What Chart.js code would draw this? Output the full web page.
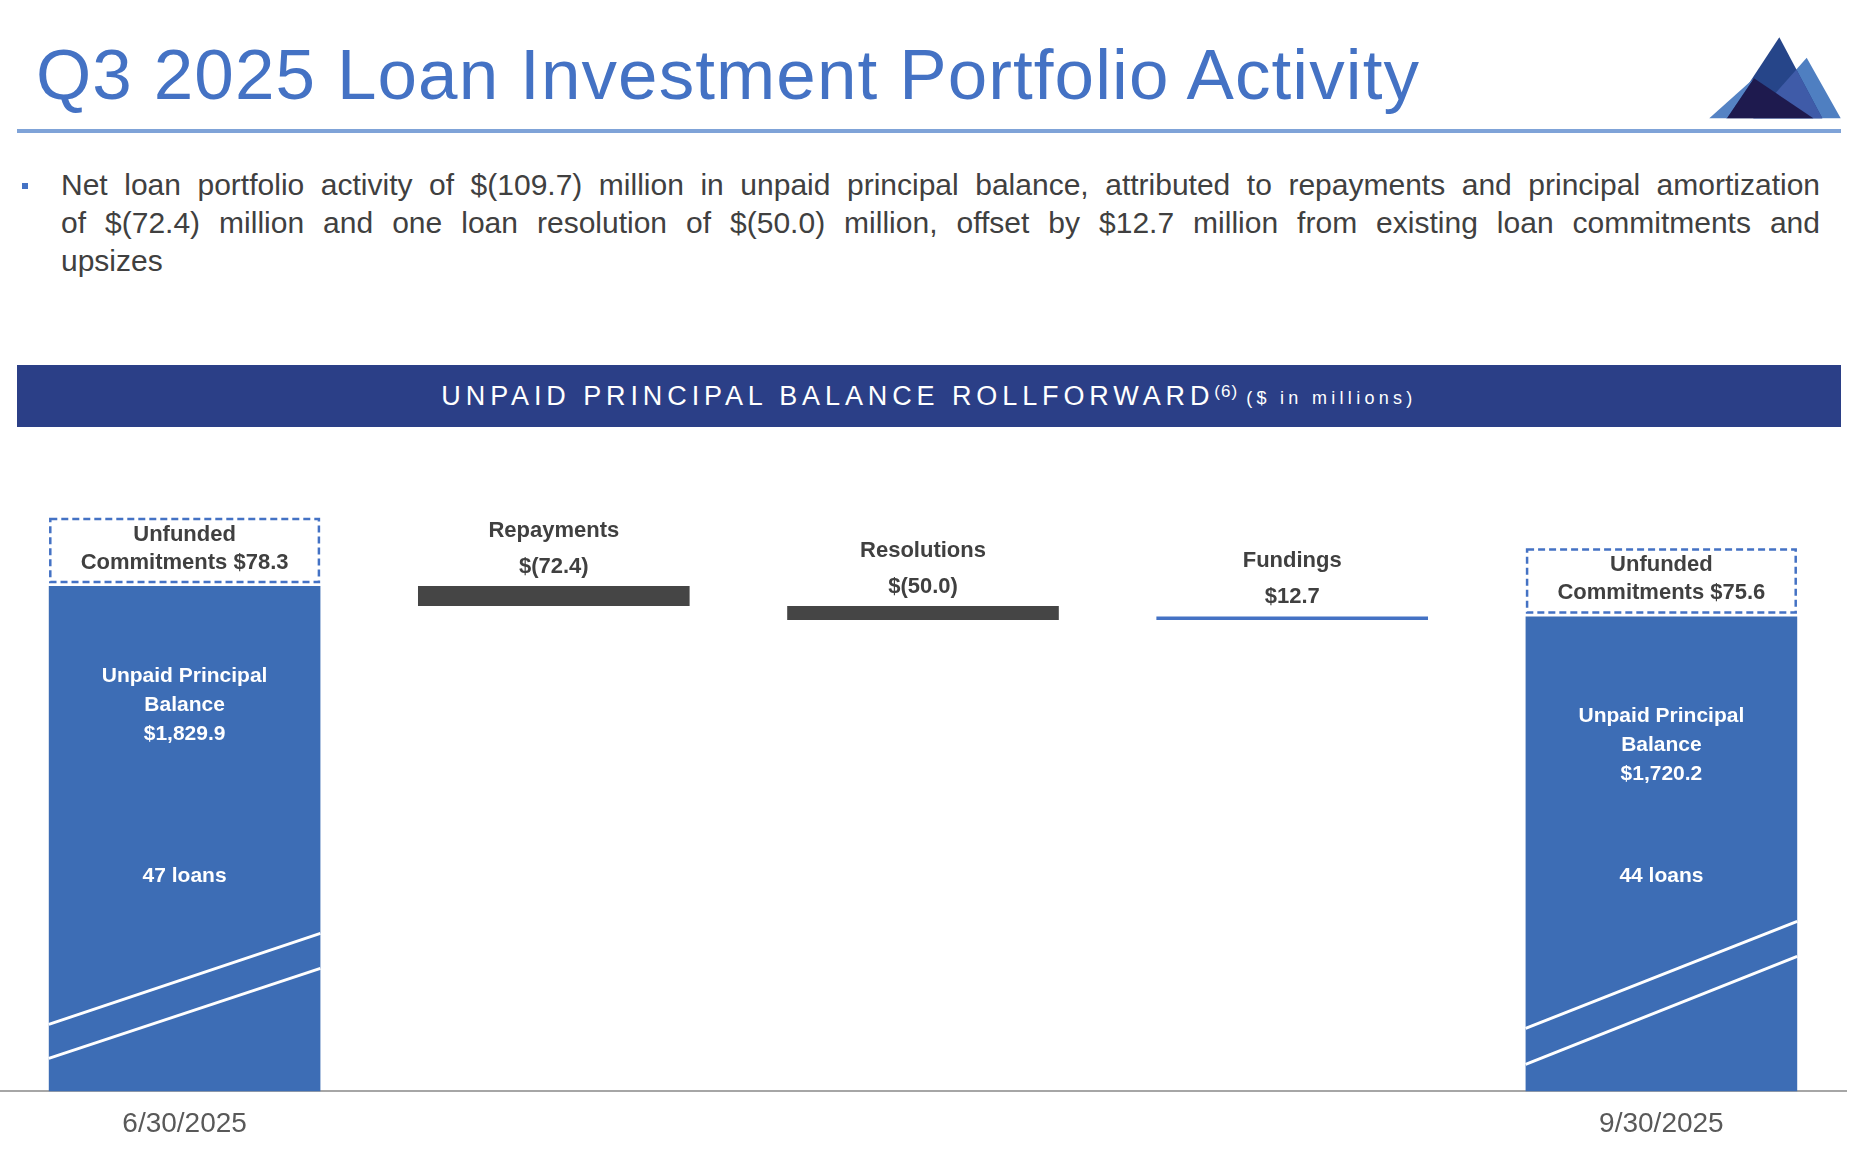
<!DOCTYPE html>
<html>
<head>
<meta charset="utf-8">
<script src="https://cdn.jsdelivr.net/npm/chart.js@4.4.1/dist/chart.umd.min.js"></script>
<style>
  html, body { margin: 0; padding: 0; background: #fff; }
  body { width: 1868px; height: 1166px; position: relative; overflow: hidden; font-family: 'Liberation Sans', Arial, sans-serif; }
  #title { position: absolute; left: 36px; top: 39px; font-size: 71px; line-height: 1; color: #4472C4; letter-spacing: 1.1px; white-space: nowrap; }
  #rule { position: absolute; left: 17px; top: 129px; width: 1824px; height: 4px; background: #7FA3D8; }
  #logo { position: absolute; left: 0; top: 0; }
  #bullet { position: absolute; left: 22px; top: 183px; width: 6px; height: 6px; background: #4472C4; }
  #text { position: absolute; left: 61px; top: 166px; width: 1759px; font-size: 30px; line-height: 38px; color: #404040; }
  #text .j { text-align: justify; text-align-last: justify; white-space: nowrap; }
  #banner { position: absolute; left: 17px; top: 365px; width: 1824px; height: 62px; background: #2B3F87; color: #fff;
            display: flex; align-items: center; justify-content: center; }
  #banner .main { font-size: 27px; letter-spacing: 4.9px; }
  #banner sup { font-size: 17px; letter-spacing: 1px; position: relative; top: -4px; }
  #banner .unit { font-size: 18px; letter-spacing: 4.3px; margin-left: 8px; position: relative; top: 2px; }
  #wrap { position: absolute; left: 0; top: 440px; width: 1868px; height: 726px; }
</style>
</head>
<body>
<div id="title">Q3 2025 Loan Investment Portfolio Activity</div>
<div id="rule"></div>
<svg id="logo" width="1868" height="130">
  <polygon points="1806.7,57.7 1753.3,118.3 1840.7,118.3" fill="#4F7FC1"/>
  <polygon points="1779.3,37.3 1726,118.3 1822.3,118.3" fill="#264589"/>
  <polygon points="1796.4,69.5 1753.3,118.3 1822.3,118.3" fill="#3F5BA8"/>
  <polygon points="1709.3,118.3 1754,78.3 1727,118.3" fill="#5583C4"/>
  <polygon points="1754,78.3 1727,118.3 1813.3,118.3" fill="#1E1A4E"/>
</svg>
<div id="bullet"></div>
<div id="text">
  <div class="j">Net loan portfolio activity of $(109.7) million in unpaid principal balance, attributed to repayments and principal amortization</div>
  <div class="j">of $(72.4) million and one loan resolution of $(50.0) million, offset by $12.7 million from existing loan commitments and</div>
  <div>upsizes</div>
</div>
<div id="banner"><span class="main">UNPAID PRINCIPAL BALANCE ROLLFORWARD</span><sup>(6)</sup><span class="unit">($ in millions)</span></div>
<div id="wrap"><canvas id="grafico"></canvas></div>
<script>
  const categories = ['6/30/2025', 'Repayments', 'Resolutions', 'Fundings', '9/30/2025'];
  const tickLabels = ['6/30/2025', '', '', '', '9/30/2025'];
  const startBalance = 1829.9;
  const changes = [-72.4, -50.0, 12.7];
  const endBalance = 1720.2;
  const unfunded = [78.3, 75.6];
  const loanCounts = [47, 44];

  // waterfall: end bars from zero, steps float between running totals
  let running = startBalance;
  const floating = [[0, startBalance]];
  changes.forEach(c => {
    floating.push([running, running + c]);
    running += c;
  });
  floating.push([0, endBalance]);

  const barColors = ['#3D6DB5', '#454545', '#454545', '#4472C4', '#3D6DB5'];

  const fmtDelta = v => v < 0 ? '$(' + Math.abs(v).toFixed(1) + ')' : '$' + v.toFixed(1);
  const fmtBal = v => '$' + v.toLocaleString('en-US', { minimumFractionDigits: 1, maximumFractionDigits: 1 });

  const labelPlugin = {
    id: 'wfLabels',
    afterDatasetsDraw(chart) {
      const ctx = chart.ctx;
      const bars = chart.getDatasetMeta(0).data;
      const last = bars.length - 1;
      ctx.save();
      ctx.textAlign = 'center';
      ctx.textBaseline = 'middle';
      bars.forEach((bar, i) => {
        const top = Math.min(bar.y, bar.base);
        const base = Math.max(bar.y, bar.base);
        const left = bar.x - bar.width / 2;
        const right = bar.x + bar.width / 2;
        if (i === 0 || i === last) {
          const k = i === 0 ? 0 : 1;
          const bal = i === 0 ? startBalance : endBalance;
          // axis break marks
          const cuts = k === 0 ? [[67, 158], [33, 123]] : [[63, 170], [27, 135]];
          ctx.strokeStyle = '#fff';
          ctx.lineWidth = 3;
          cuts.forEach(c => {
            ctx.beginPath();
            ctx.moveTo(left, base - c[0]);
            ctx.lineTo(right, base - c[1]);
            ctx.stroke();
          });
          // unfunded commitments box
          ctx.setLineDash([7, 4]);
          ctx.strokeStyle = '#4472C4';
          ctx.lineWidth = 2.5;
          ctx.strokeRect(left + 1.5, top - 67, bar.width - 3, 63);
          ctx.setLineDash([]);
          ctx.fillStyle = '#404040';
          ctx.font = 'bold 22px "Liberation Sans", Arial, sans-serif';
          ctx.fillText('Unfunded', bar.x, top - 51);
          ctx.fillText('Commitments ' + fmtBal(unfunded[k]), bar.x, top - 23);
          // inside text
          const off = k === 0 ? 90 : 100;
          ctx.fillStyle = '#fff';
          ctx.font = 'bold 21px "Liberation Sans", Arial, sans-serif';
          ctx.fillText('Unpaid Principal', bar.x, top + off);
          ctx.fillText('Balance', bar.x, top + off + 29);
          ctx.fillText(fmtBal(bal), bar.x, top + off + 58);
          ctx.fillText(loanCounts[k] + ' loans', bar.x, base - 215);
        } else {
          ctx.fillStyle = '#404040';
          ctx.font = 'bold 22px "Liberation Sans", Arial, sans-serif';
          ctx.fillText(categories[i], bar.x, top - 55);
          ctx.fillText(fmtDelta(changes[i - 1]), bar.x, top - 19);
        }
      });
      ctx.restore();
    }
  };

  const ctx = document.getElementById('grafico').getContext('2d');
  const grafico = new Chart(ctx, {
    type: 'bar',
    data: {
      labels: categories,
      datasets: [{
        data: floating,
        backgroundColor: barColors,
        borderWidth: 0,
        barPercentage: 0.7357,
        categoryPercentage: 1
      }]
    },
    options: {
      responsive: true,
      maintainAspectRatio: false,
      animation: false,
      layout: { padding: { left: 0, right: 22, top: 0, bottom: 9 } },
      plugins: { legend: { display: false }, tooltip: { enabled: false } },
      scales: {
        x: {
          grid: { display: false, drawTicks: false },
          border: { display: true, color: '#A6A6A6', width: 2 },
          ticks: {
            padding: 16,
            color: '#595959',
            font: { family: 'Liberation Sans', size: 28 },
            callback: (v, i) => tickLabels[i]
          }
        },
        y: {
          display: false,
          min: 0,
          max: 2359
        }
      }
    },
    plugins: [labelPlugin]
  });
</script>
</body>
</html>
